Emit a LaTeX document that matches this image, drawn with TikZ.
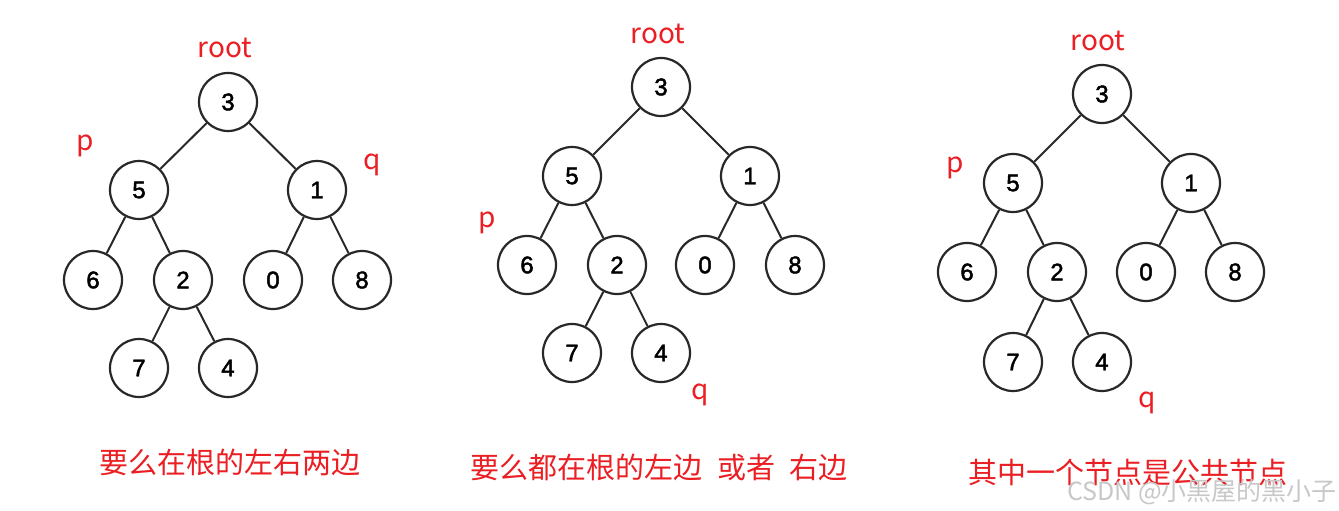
\documentclass[tikz,border=0pt]{standalone}
\usepackage{fontspec}
\setmainfont{Liberation Sans}
\newfontfamily\numfont[FakeBold=2]{Liberation Sans}
\newfontfamily\cjk{Noto Sans CJK SC}
\definecolor{lbl}{RGB}{235,30,35}
\definecolor{edge}{RGB}{40,40,40}
\definecolor{wm}{RGB}{200,200,200}
\begin{document}
\begin{tikzpicture}[x=1pt,y=-1pt,
  tnode/.style={circle,draw=edge,line width=2.2pt,minimum size=58pt,inner sep=0pt,font=\numfont\fontsize{24}{26}\selectfont},
  tedge/.style={draw=edge,line width=2pt},
  redlbl/.style={text=lbl,font=\cjk\fontsize{28}{30}\selectfont,inner sep=0pt},
  caption/.style={text=lbl,font=\cjk\fontsize{29}{32}\selectfont,inner sep=0pt},
  wmark/.style={text=wm,font=\cjk\fontsize{25}{28}\selectfont,inner sep=0pt,anchor=east}]
\useasboundingbox (0,0) rectangle (1339,511);
\fill[white] (0,0) rectangle (1339,511);
% ---------- tree 1 ----------
\node[tnode] (a3) at (228,102) {3};
\node[tnode] (a5) at (139,190) {5};
\node[tnode] (a1) at (317,190) {1};
\node[tnode] (a6) at (93,280) {6};
\node[tnode] (a2) at (183,280) {2};
\node[tnode] (a0) at (273,280) {0};
\node[tnode] (a8) at (362,280) {8};
\node[tnode] (a7) at (139,368) {7};
\node[tnode] (a4) at (228,368) {4};
\draw[tedge] (a3)--(a5) (a3)--(a1) (a5)--(a6) (a5)--(a2) (a1)--(a0) (a1)--(a8) (a2)--(a7) (a2)--(a4);
\node[redlbl] (ar) at (225,48) {root};
\node[redlbl] (ap) at (85,146) {p};
\node[redlbl] (aq) at (372,165) {q};
\node[caption] (ac) at (230,462) {要么在根的左右两边};
% ---------- tree 2 ----------
\node[tnode] (b3) at (661,87) {3};
\node[tnode] (b5) at (572,176) {5};
\node[tnode] (b1) at (750,176) {1};
\node[tnode] (b6) at (527,265) {6};
\node[tnode] (b2) at (617,265) {2};
\node[tnode] (b0) at (705,265) {0};
\node[tnode] (b8) at (795,265) {8};
\node[tnode] (b7) at (572,353) {7};
\node[tnode] (b4) at (661,353) {4};
\draw[tedge] (b3)--(b5) (b3)--(b1) (b5)--(b6) (b5)--(b2) (b1)--(b0) (b1)--(b8) (b2)--(b7) (b2)--(b4);
\node[redlbl] (br) at (658,34) {root};
\node[redlbl] (bp) at (487,223) {p};
\node[redlbl] (bq) at (700,395) {q};
\node[caption] (bc) at (659,467) {要么都在根的左边\hspace{0.5em}或者\hspace{0.5em}右边};
% ---------- tree 3 ----------
\node[tnode] (c3) at (1102,94) {3};
\node[tnode] (c5) at (1013,183) {5};
\node[tnode] (c1) at (1191,183) {1};
\node[tnode] (c6) at (967,272) {6};
\node[tnode] (c2) at (1057,272) {2};
\node[tnode] (c0) at (1146,272) {0};
\node[tnode] (c8) at (1235,272) {8};
\node[tnode] (c7) at (1013,362) {7};
\node[tnode] (c4) at (1102,362) {4};
\draw[tedge] (c3)--(c5) (c3)--(c1) (c5)--(c6) (c5)--(c2) (c1)--(c0) (c1)--(c8) (c2)--(c7) (c2)--(c4);
\node[redlbl] (cr) at (1098,41) {root};
\node[redlbl] (cp) at (955,168) {p};
\node[redlbl] (cq) at (1147,403) {q};
\node[caption] (cc) at (1128,472) {其中一个节点是公共节点};
% watermark
\node[wmark] (wm) at (1337,492) {CSDN @小黑屋的黑小子};
\end{tikzpicture}
\end{document}
